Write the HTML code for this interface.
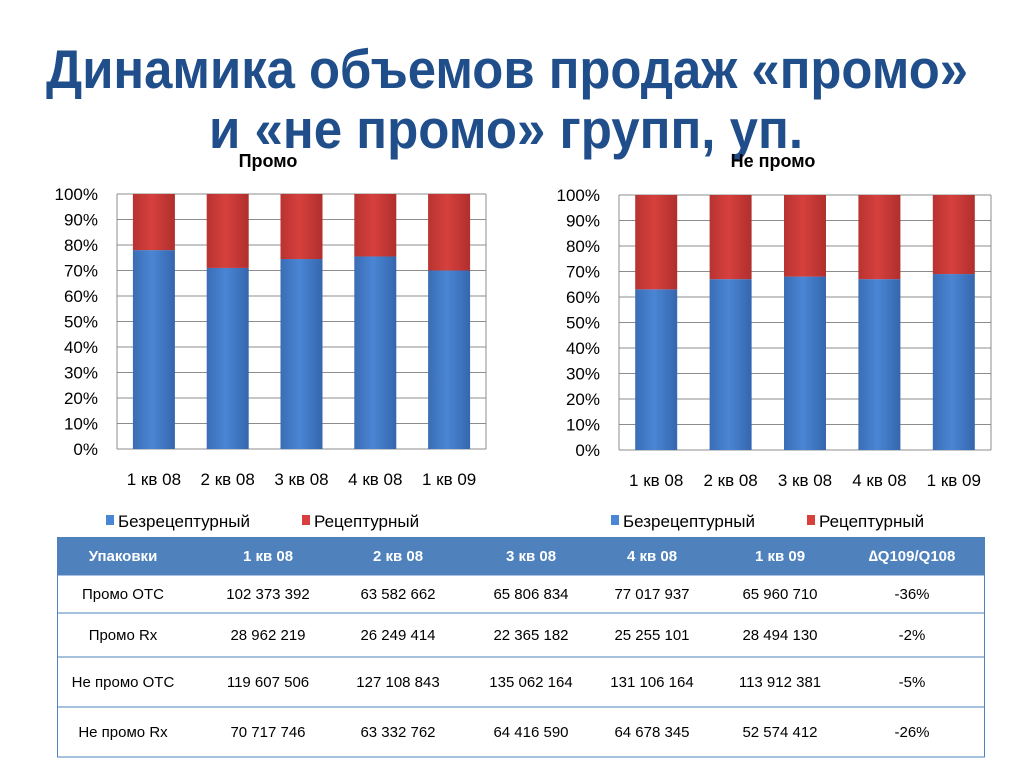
<!DOCTYPE html>
<html><head><meta charset="utf-8"><style>
body{margin:0;background:#fff;}
svg{display:block;font-family:"Liberation Sans",Arial,sans-serif;}
</style></head><body>
<svg id="s" width="1024" height="768" viewBox="0 0 1024 768">
<defs>
<linearGradient id="gb" x1="0" x2="1" y1="0" y2="0"><stop offset="0" stop-color="#3a6db5"/><stop offset="0.45" stop-color="#4a86d4"/><stop offset="1" stop-color="#3566ae"/></linearGradient>
<linearGradient id="gr" x1="0" x2="1" y1="0" y2="0"><stop offset="0" stop-color="#b83331"/><stop offset="0.45" stop-color="#d6403d"/><stop offset="1" stop-color="#b02f2d"/></linearGradient>
</defs>
<text x="507" y="88" text-anchor="middle" font-size="55" font-weight="bold" fill="#1f4e8a" textLength="922" lengthAdjust="spacingAndGlyphs">Динамика объемов продаж «промо»</text>
<text x="506" y="148" text-anchor="middle" font-size="55" font-weight="bold" fill="#1f4e8a" textLength="594" lengthAdjust="spacingAndGlyphs">и «не промо» групп, уп.</text>
<text x="268" y="167" text-anchor="middle" font-size="18" font-weight="bold" fill="#000">Промо</text>
<text x="773" y="167" text-anchor="middle" font-size="18" font-weight="bold" fill="#000">Не промо</text>
<g id="c1"></g>
<g id="c2"></g>
<g id="tbl"></g>
</svg>
<script>
const categories=["1 кв 08","2 кв 08","3 кв 08","4 кв 08","1 кв 09"];
const yTicks=[0,10,20,30,40,50,60,70,80,90,100];
const promoOtc=[78,71,74.5,75.5,70];
const nonPromoOtc=[63,67,68,67,69];
const seriesNames=["Безрецептурный","Рецептурный"];
const headers=["Упаковки","1 кв 08","2 кв 08","3 кв 08","4 кв 08","1 кв 09","∆Q109/Q108"];
const rows=[
["Промо OTC","102 373 392","63 582 662","65 806 834","77 017 937","65 960 710","-36%"],
["Промо Rx","28 962 219","26 249 414","22 365 182","25 255 101","28 494 130","-2%"],
["Не промо OTC","119 607 506","127 108 843","135 062 164","131 106 164","113 912 381","-5%"],
["Не промо Rx","70 717 746","63 332 762","64 416 590","64 678 345","52 574 412","-26%"]];
const NS="http://www.w3.org/2000/svg";
function mk(p,t,a,txt){const e=document.createElementNS(NS,t);for(const k in a)e.setAttribute(k,a[k]);if(txt!=null)e.textContent=txt;p.appendChild(e);return e;}
function chart(g,x0,x1,y0,y1,vals,legX){
  const y=v=>y0-(v/100)*(y0-y1);
  const step=(x1-x0)/categories.length;
  const xc=i=>x0+step*(i+0.5);
  yTicks.forEach(t=>{
    const l=mk(g,"line",{x1:x0,x2:x1,y1:y(t),y2:y(t),stroke:"#8c8c8c","stroke-width":1});
    
    
    const tx=mk(g,"text",{x:x0-19,y:y(t)+6,"text-anchor":"end","font-size":17,fill:"#000"},t+"%");
    
    
  });
  const ax=mk(g,"line",{x1:x0,x2:x0,y1:y1,y2:y0,stroke:"#8c8c8c"});
  
  
  const ax2=mk(g,"line",{x1:x1,x2:x1,y1:y1,y2:y0,stroke:"#8c8c8c"});
  
  
  const bw=42;
  vals.forEach((v,i)=>{
    const b=mk(g,"rect",{x:xc(i)-bw/2,y:y(v),width:bw,height:y0-y(v),fill:"url(#gb)"});
    
    
    const r=mk(g,"rect",{x:xc(i)-bw/2,y:y(100),width:bw,height:y(v)-y(100),fill:"url(#gr)"});
    
    
    const c=mk(g,"text",{x:xc(i),y:y0+36,"text-anchor":"middle","font-size":17,fill:"#000"},categories[i]);
    
    
  });
  const cols=["#4a86d4","#d6403d"];const lx=[legX,legX+196];
  seriesNames.forEach((n,i)=>{
    const s=mk(g,"rect",{x:lx[i],y:515,width:8,height:10,fill:cols[i]});
    
    
    const t=mk(g,"text",{x:lx[i]+12,y:527,"font-size":17,fill:"#000"},n);
    
    
  });
}
chart(document.getElementById("c1"),117,486,449,194,promoOtc,106);
chart(document.getElementById("c2"),619,991,450,195,nonPromoOtc,611);
const T=document.getElementById("tbl");
const colX=[123,268,398,531,652,780,912];
const rowY=[575,613,657,707,757];
const hb=mk(T,"rect",{x:57,y:537,width:928,height:38,fill:"#4f81bd"});


headers.forEach((h,i)=>{
  const t=mk(T,"text",{x:colX[i],y:561,"text-anchor":"middle","font-size":15,"font-weight":"bold",fill:"#fff"},h);
  
  
});
const fr=mk(T,"rect",{x:57.5,y:575,width:927,height:182,fill:"none",stroke:"#4f81bd"});


rows.forEach((r,j)=>{
  if(j>0){const l=mk(T,"line",{x1:57,x2:985,y1:rowY[j],y2:rowY[j],stroke:"#4f81bd"});
  
  }
  const cy=(rowY[j]+rowY[j+1])/2+5;
  r.forEach((c,i)=>{
    const t=mk(T,"text",{x:colX[i],y:cy,"text-anchor":"middle","font-size":15,fill:"#000"},c);
    
    
  });
});
</script>
</body></html>
